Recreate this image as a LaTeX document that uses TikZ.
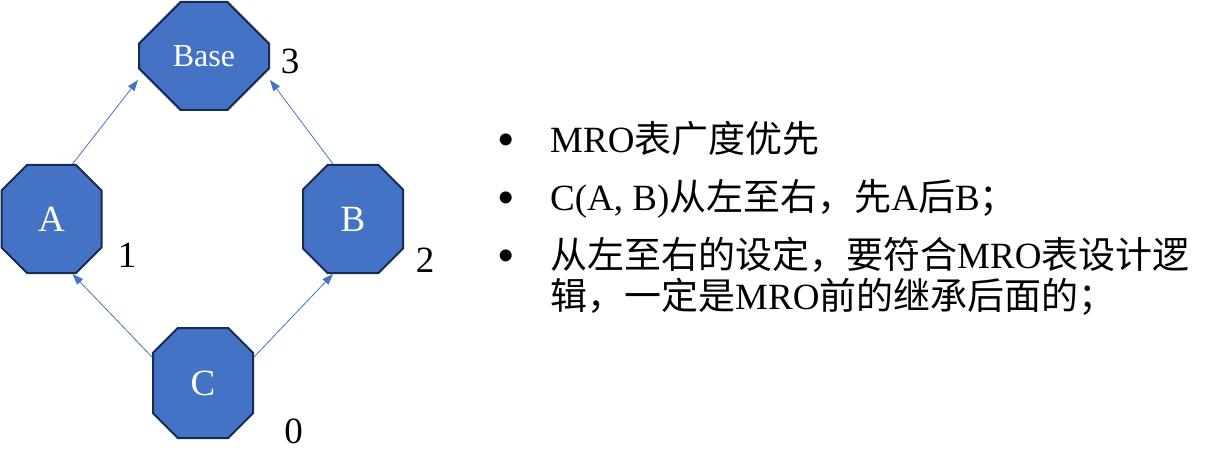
\documentclass[tikz,border=0pt]{standalone}
\usepackage{fontspec}
\setmainfont{Liberation Serif}
\newfontfamily\cjk{Noto Sans CJK SC}
\newfontfamily\bulletfont{Liberation Sans}
\usetikzlibrary{shapes.misc,arrows.meta,calc}
\definecolor{octfill}{HTML}{4472C4}
\definecolor{octline}{HTML}{172C51}
\definecolor{arrowc}{HTML}{4472C4}
\tikzset{
  oct/.style={chamfered rectangle, chamfered rectangle xsep=30pt, chamfered rectangle ysep=29pt,
    draw=octline, line width=2pt, fill=octfill, text=white, inner sep=0pt,
    minimum width=100pt, minimum height=108pt, font=\fontsize{37}{37}\selectfont},
  conn/.style={draw=arrowc, line width=0.8pt, -{Triangle[length=11pt,width=8pt]}},
  num/.style={anchor=base, inner sep=0pt, font=\fontsize{37}{37}\selectfont},
  txt/.style={anchor=base west, inner sep=0pt, font=\fontsize{37}{37}\selectfont},
  bul/.style={anchor=base west, inner sep=0pt, font=\bulletfont\fontsize{44}{44}\selectfont}
}
\begin{document}
\begin{tikzpicture}[x=1pt,y=-1pt]
\useasboundingbox (0,0) rectangle (1221,476);
% octagons
\node[oct, minimum width=130pt, chamfered rectangle xsep=32pt, chamfered rectangle ysep=31pt,
      font=\fontsize{32}{32}\selectfont] (Base) at (204,56) {Base};
\node[oct] (A) at (51.5,219) {A};
\node[oct] (B) at (353,219) {B};
\node[oct, minimum height=110pt] (C) at (203,383) {C};
% connectors
\draw[conn] ($(A.north)+(21,0)$) -- ($(Base.west)+(0,24)$);
\draw[conn] ($(B.north)+(-20,0)$) -- ($(Base.east)+(0,24)$);
\draw[conn] ($(C.west)+(0,-26)$) -- ($(A.south)+(21,0)$);
\draw[conn] ($(C.east)+(0,-26)$) -- ($(B.south)+(-20,0)$);
% order numbers
\node[num] (n3) at (290,74) {3};
\node[num] (n1) at (127,267) {1};
\node[num] (n2) at (425,272) {2};
\node[num] (n0) at (293.5,443) {0};
% bullets
\node[bul] (b1) at (498,155) {•};
\node[bul] (b2) at (498,212) {•};
\node[bul] (b3) at (498,270) {•};
% text
\node[txt] (t1) at (550,153) {MRO{\cjk 表广度优先}};
\node[txt] (t2) at (550,210) {C(A, B){\cjk 从左至右，先}A{\cjk 后}B{\cjk ；}};
\node[txt] (t3) at (550,268) {{\cjk 从左至右的设定，要符合}MRO{\cjk 表设计逻}};
\node[txt] (t4) at (550,309) {{\cjk 辑，一定是}MRO{\cjk 前的继承后面的；}};
\end{tikzpicture}
\end{document}
